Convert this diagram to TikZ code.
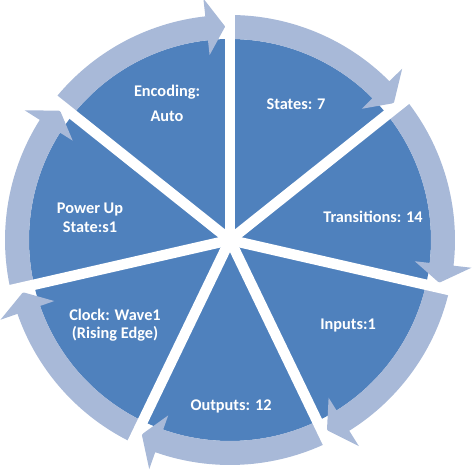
\documentclass[tikz,border=0pt]{standalone}
\usepackage{fontspec}
\setmainfont{Carlito}
\definecolor{pieblue}{RGB}{79,129,189}
\definecolor{ringblue}{RGB}{168,185,216}
\begin{document}
\begin{tikzpicture}[x=1pt,y=1pt,
  lbl/.style={text=white,font=\fontsize{16.3}{18.5}\selectfont\bfseries,align=center,inner sep=0pt},
  sep/.style={draw=white,line width=10.5pt},
  ringarrow/.style={fill=ringblue}]
\useasboundingbox (0,0) rectangle (474,472);
\coordinate (C) at (230,232);
\def\Ri{201}\def\Ro{225}\def\Hi{186}\def\Ho{243}\def\Rm{213.5}
% pie
\fill[pieblue] (C) circle[radius=\Ri];
% ring arrows
\foreach \k in {0,...,6}{
  \pgfmathsetmacro{\s}{90-360/7*\k}
  \pgfmathsetmacro{\e}{\s-360/7}
  \pgfmathsetmacro{\b}{\e+6.3}
  \pgfmathsetmacro{\t}{\e+1.3}
  \fill[ringarrow] ([shift={(C)}]\s:\Ro) arc[start angle=\s,end angle=\b,radius=\Ro]
    -- ([shift={(C)}]\b:\Ho) -- ([shift={(C)}]\t:\Rm) -- ([shift={(C)}]\b:\Hi)
    -- ([shift={(C)}]\b:\Ri) arc[start angle=\b,end angle=\s,radius=\Ri] -- cycle;
}
% separators
\foreach \k in {0,...,6}{
  \pgfmathsetmacro{\s}{90-360/7*\k}
  \coordinate (sep\k) at ([shift={(C)}]\s:252);
  \draw[sep] (C) -- (sep\k);
}
% labels
\node[lbl] (enc) at (167,368.5) {Encoding:\\[6.5pt]Auto};
\node[lbl] (states) at (296,368) {States: 7};
\node[lbl] (trans) at (373,255) {Transitions: 14};
\node[lbl] (inputs) at (348,147) {Inputs:1};
\node[lbl] (outputs) at (231,66) {Outputs: 12};
\node[lbl] (clock) at (115,147) {Clock: Wave1\\(Rising Edge)};
\node[lbl] (power) at (90,254) {Power Up\\State:s1};
\end{tikzpicture}
\end{document}
